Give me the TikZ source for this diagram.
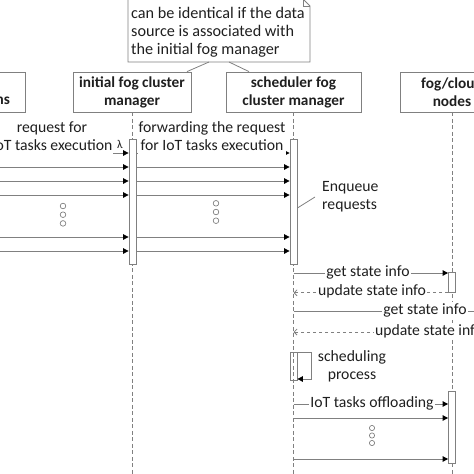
\documentclass[tikz,border=0pt]{standalone}
\usepackage{fontspec}
\setmainfont{Carlito}
\usetikzlibrary{positioning}
\usetikzlibrary{arrows.meta}

\begin{document}
\begin{tikzpicture}[x=1pt, y=-1pt,
  every node/.style={font=\fontsize{15.7}{18}\selectfont, text=black!88},
  header/.style={draw=gray, line width=0.8pt, align=center, minimum height=40pt,
    inner sep=2pt, font=\fontsize{15.3}{18}\selectfont\bfseries},
  lifeline/.style={draw=gray, line width=0.8pt, dash pattern=on 4pt off 2.5pt},
  activity/.style={draw=gray, fill=white, line width=0.8pt, minimum width=7pt,
    inner sep=0pt, anchor=north},
  msg/.style={draw=gray, line width=0.8pt, -{Triangle[length=5.5pt, width=5.5pt, color=black]}},
  reply/.style={draw=gray, line width=0.8pt, dash pattern=on 3.5pt off 2.5pt,
    -{Straight Barb[length=3pt, width=6pt]}},
  msglabel/.style={fill=white, inner sep=1pt, anchor=base},
  dots/.style={draw=gray, line width=0.7pt}]

  \useasboundingbox (0,0) rectangle (474,474);
  \clip (0,0) rectangle (474,474);
  \coordinate (bottom) at (0,480);
  \coordinate (offright) at (490,0);

  % lifeline heads
  \node[header, minimum width=107pt] (src) at (-28.5,92) {IoT\\applications};
  \node[header, minimum width=118pt] (init) at (132,92) {initial fog cluster\\manager};
  \node[header, minimum width=135pt] (sched) at (293.5,92) {scheduler fog\\cluster manager};
  \node[header, minimum width=104pt] (fog) at (452,92) {fog/cloud\\nodes};

  % note
  \node[align=left, inner sep=0pt, anchor=west, font=\fontsize{16.2}{18}\selectfont] (note) at (131,32)
    {can be identical if the data\\source is associated with\\the initial fog manager};
  \draw[gray, line width=0.8pt] (128,-1) -- (303,-1) -- (310,6) -- (310,62) -- (128,62) -- cycle;
  \draw[gray, line width=0.8pt] (303,-1) -- (303,6) -- (310,6);
  \coordinate (notea) at (209,62);
  \coordinate (noteb) at (229,62);
  \draw[gray, line width=0.8pt] (notea) -- (init.north -| 187,0);
  \draw[gray, line width=0.8pt] (noteb) -- (sched.north -| 249,0);

  % lifelines
  \draw[lifeline] (init.south) -- (init.south |- bottom);
  \draw[lifeline] (sched.south) -- (sched.south |- bottom);
  \draw[lifeline] (fog.south) -- (fog.south |- bottom);

  % activations
  \node[activity, minimum height=125pt] (ibar) at (132.5,139) {};
  \node[activity, minimum height=125pt] (sbar) at (293.5,139) {};
  \node[activity, minimum height=20pt] (fbar1) at (452,272) {};
  \node[activity, minimum height=72pt] (fbar2) at (452,391) {};
  \node[activity, fill=none, minimum height=28pt] (pbar) at (293.5,352) {};

  % requests
  \foreach \y in {153,167,181,195,237,251} {
    \draw[msg] (src.south |- 0,\y) -- (ibar.west |- 0,\y);
    \draw[msg] (ibar.east |- 0,\y) -- (sbar.west |- 0,\y);
  }
  \foreach \y in {206,214.7,223.4} \draw[dots] (63,\y) circle[radius=2.8pt];
  \foreach \y in {203.3,212,220.7} \draw[dots] (216,\y) circle[radius=2.8pt];
  \node[msglabel, anchor=south, align=center, text depth=4pt] (req) at (52,156)
    {request for\\IoT tasks execution};
  \node[inner sep=0pt, font=\fontsize{12}{12}\selectfont] (lambda) at (120,144) {λ};
  \node[msglabel, anchor=south, align=center, text depth=4pt] (fwd) at (212,156)
    {forwarding the request\\for IoT tasks execution};

  \node[anchor=west, align=left, inner xsep=7pt] (enq) at (315,197) {Enqueue\\requests};
  \draw[gray, line width=0.8pt] (sbar.east |- 0,208) -- (enq.west);

  % state info
  \draw[msg] (sched.south |- 0,273) -- (fbar1.west |- 0,273);
  \node[msglabel] (get1) at (368,276) {get state info};
  \draw[reply] (fbar1.south west) -- (sched.south |- fbar1.south);
  \node[msglabel] (upd1) at (372,295) {update state info};
  \draw[gray, line width=0.8pt] (sched.south |- 0,311) -- (offright |- 0,311);
  \node[msglabel] (get2) at (425,314) {get state info};
  \draw[reply] (offright |- 0,332) -- (sched.south |- 0,332);
  \node[msglabel] (upd2) at (429,335) {update state info};

  % scheduling
  \draw[msg] (pbar.north east) -- ++(14,0) |- (pbar.east |- 0,379);
  \node[align=center] (proc) at (352,366) {scheduling\\process};

  % offloading
  \foreach \y in {404,418,459} \draw[msg] (sched.south |- 0,\y) -- (fbar2.west |- 0,\y);
  \node[msglabel] (off) at (372,407) {IoT tasks offloading};
  \foreach \y in {428,435.5,443} \draw[dots] (372,\y) circle[radius=2.6pt];
\end{tikzpicture}
\end{document}
